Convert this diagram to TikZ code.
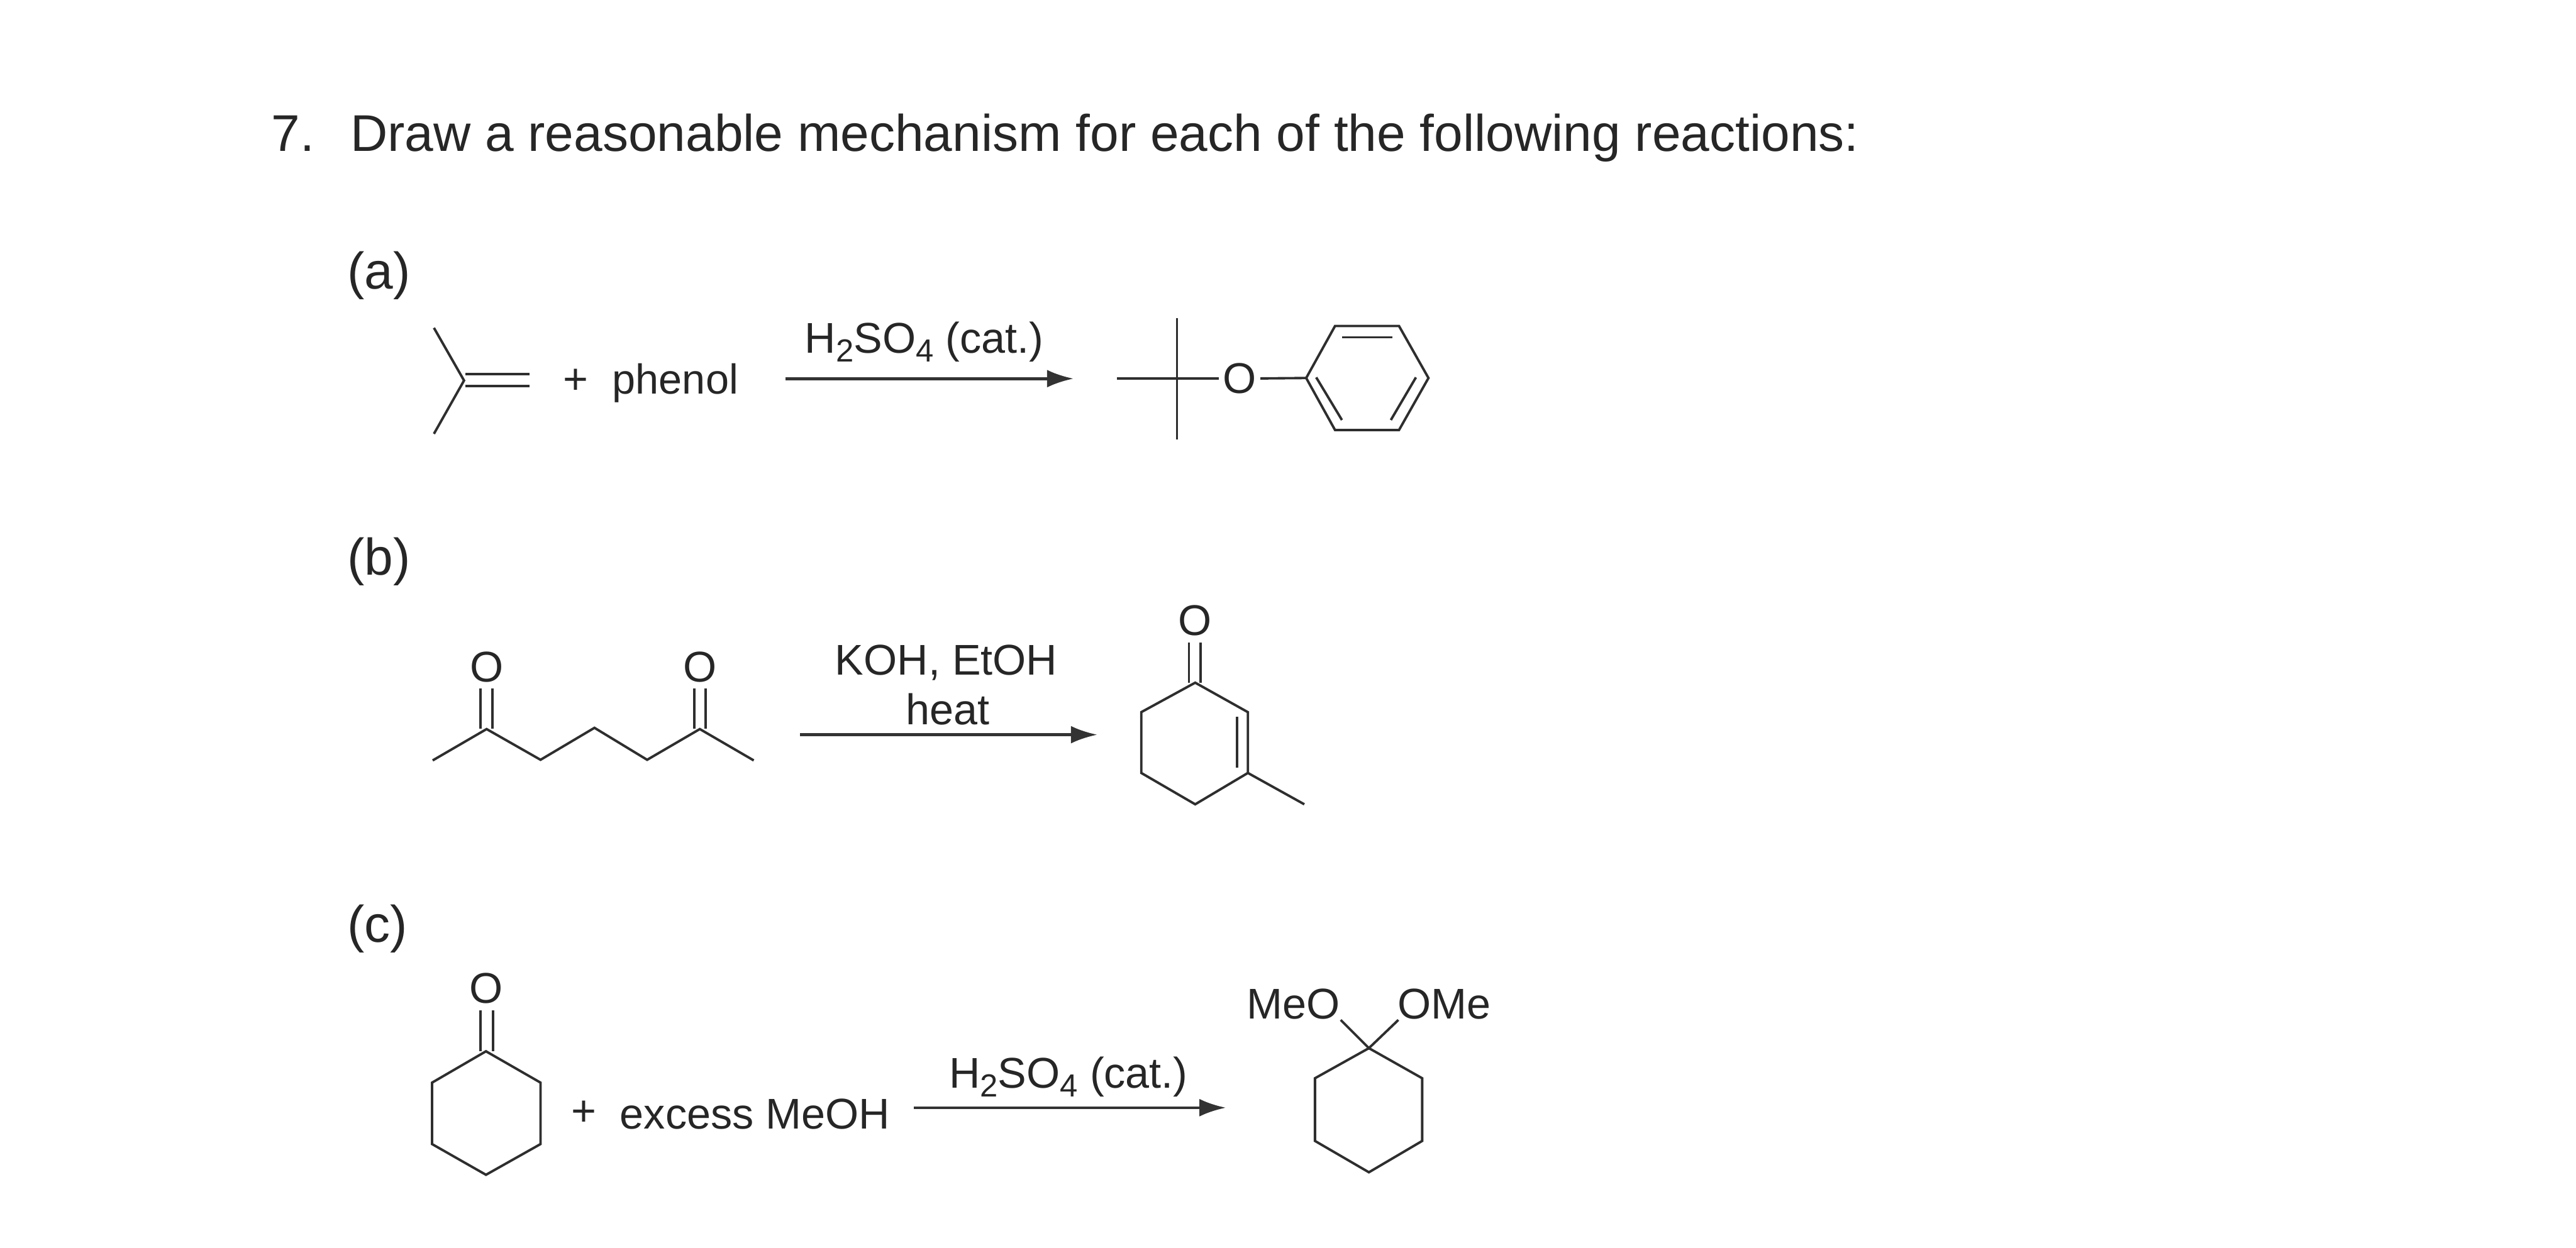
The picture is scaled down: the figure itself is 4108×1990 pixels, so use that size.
\documentclass[tikz,border=0pt]{standalone}
\usepackage{fontspec}
\setmainfont{Liberation Sans}
\usetikzlibrary{arrows.meta}
\newcommand{\subs}[1]{\raisebox{-4pt}{\fontsize{14.5}{14.5}\selectfont #1}}
\tikzset{
    bond/.style={line width=1.1pt,draw=black!82},
    rxnarrow/.style={line width=1.3pt,draw=black!80,->},
    atom/.style={inner sep=0pt,outer sep=1.8pt,text=black!85,font=\fontsize{19.5}{19.5}\selectfont},
    words/.style={inner sep=0pt,anchor=base west,text=black!85,font=\fontsize{19.5}{19.5}\selectfont},
    heading/.style={inner sep=0pt,anchor=base west,text=black!85,font=\fontsize{23.4}{23.4}\selectfont}
}
\begin{document}
\begin{tikzpicture}[>={Latex[length=12pt,width=8pt]},x=.01cm,y=-.01cm]
\useasboundingbox (0,0) rectangle (4108,1990);
\node[heading] (num) at (432,241){7.};
\node[heading] (title) at (558,241){Draw a reasonable mechanism for each of the following reactions:};
\node[heading] (parta) at (553,461){(a)};
\node[heading] (partb) at (553,917){(b)};
\node[heading] (partc) at (553,1503){(c)};

% (a)
\draw[bond] (692,523)--(740,607)--(692,692);
\draw[bond] (742,597)--(844,597);
\draw[bond] (742,616)--(844,616);
\node[words] (plusa) at (897,628){+};
\node[words,font=\fontsize{19}{19}\selectfont] (phenol) at (976,628){phenol};
\coordinate (a1) at (1253,604);
\coordinate (a2) at (1712,604);
\draw[rxnarrow] (a1)--(a2);
\node[words] (cata) at (1283,563){H\subs{2}SO\subs{4} (cat.)};
\node[atom] (oa) at (1977,604){O};
\coordinate (tbu) at (1781,604);
\coordinate (ipso) at (2083,603);
\draw[bond] (tbu)--(oa);
\draw[bond] (oa)--(ipso);
\draw[bond] (1877,507)--(1877,701);
\draw[bond] (ipso)--(2129,520)--(2231,520)--(2278,603)--(2231,686)--(2129,686)--cycle;
\draw[bond] (2140,538)--(2220,538);
\draw[bond] (2099,602)--(2140,670);
\draw[bond] (2258,602)--(2218,670);

% (b)
\draw[bond] (690,1213)--(776,1163)--(862,1212)--(948,1161)--(1032,1212)--(1116,1163)--(1202,1213);
\node[atom] (ob1) at (776,1064){O};
\node[atom] (ob2) at (1116,1064){O};
\foreach \x in {766,785,1107,1125}
{
    \draw[bond] (\x,1098)--(\x,1162);
}
\coordinate (b1) at (1276,1172);
\coordinate (b2) at (1750,1172);
\draw[rxnarrow] (b1)--(b2);
\node[words,anchor=base] (kohb) at (1509,1077){KOH, EtOH};
\node[words,anchor=base] (heatb) at (1511,1156){heat};
\node[atom] (ob3) at (1906,990){O};
\draw[bond] (1906,1089)--(1990,1136)--(1990,1233)--(1906,1283)--(1820,1233)--(1820,1136)--cycle;
\draw[bond] (1973,1143)--(1973,1225);
\draw[bond] (1990,1233)--(2080,1283);
\draw[bond] (1896,1025)--(1896,1089);
\draw[bond] (1915,1025)--(1915,1089);

% (c)
\node[atom] (oc) at (775,1577){O};
\draw[bond] (766,1612)--(766,1677);
\draw[bond] (786,1612)--(786,1677);
\draw[bond] (775,1677)--(862,1727)--(862,1825)--(775,1874)--(689,1825)--(689,1727)--cycle;
\node[words] (plusc) at (910,1796){+};
\node[words] (meoh) at (988,1801){excess MeOH};
\coordinate (c1) at (1457,1767);
\coordinate (c2) at (1955,1767);
\draw[rxnarrow] (c1)--(c2);
\node[words] (catc) at (1513,1736){H\subs{2}SO\subs{4} (cat.)};
\node[words] (meol) at (1988,1625){MeO};
\node[words] (omer) at (2228,1625){OMe};
\draw[bond] (2183,1672)--(2268,1720)--(2268,1820)--(2183,1870)--(2097,1820)--(2097,1720)--cycle;
\draw[bond] (2138,1627)--(2183,1672)--(2230,1627);

\end{tikzpicture}
\end{document}
